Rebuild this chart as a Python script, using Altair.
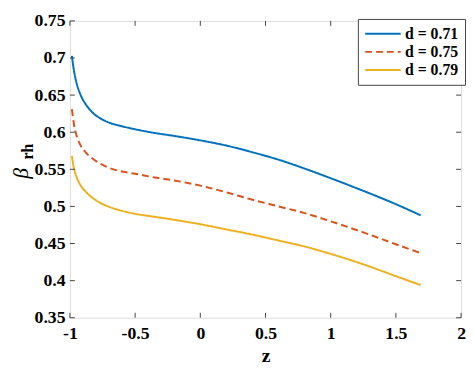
import altair as alt
import pandas as pd

z = [-0.985, -0.97, -0.95, -0.92, -0.88, -0.83, -0.77, -0.7, -0.6, -0.5, -0.35,
     -0.2, 0.0, 0.2, 0.4, 0.6, 0.8, 1.0, 1.25, 1.5, 1.69]
beta_071 = [0.703, 0.684, 0.667, 0.651, 0.638, 0.627, 0.619, 0.613, 0.608, 0.604, 0.599,
            0.595, 0.589, 0.582, 0.573, 0.563, 0.551, 0.538, 0.521, 0.503, 0.488]
beta_075 = [0.631, 0.612, 0.596, 0.583, 0.573, 0.565, 0.558, 0.552, 0.547, 0.544, 0.539,
            0.535, 0.528, 0.519, 0.509, 0.500, 0.491, 0.480, 0.465, 0.449, 0.437]
beta_079 = [0.568, 0.552, 0.540, 0.529, 0.520, 0.512, 0.505, 0.4995, 0.494, 0.490, 0.486,
            0.482, 0.476, 0.469, 0.462, 0.454, 0.446, 0.436, 0.422, 0.406, 0.394]
series = ["d = 0.71", "d = 0.75", "d = 0.79"]
colors = ["#0072BD", "#D95319", "#EDB120"]
dashes = [[1, 0], [7, 4], [1, 0]]
x_ticks = [-1, -0.5, 0, 0.5, 1, 1.5, 2]
y_ticks = [0.35, 0.4, 0.45, 0.5, 0.55, 0.6, 0.65, 0.7, 0.75]

rows = []
for name, vals in zip(series, [beta_071, beta_075, beta_079]):
    for zi, v in zip(z, vals):
        rows.append({"z": zi, "beta": v, "d": name})
df = pd.DataFrame(rows)

W, H = 398, 302
FONT = "Liberation Serif"
xs = alt.Scale(domain=[-1, 2], nice=False, zero=False)
ys = alt.Scale(domain=[0.35, 0.75], nice=False, zero=False)

leg = dict(title=None, orient="none", legendX=293, legendY=-2, symbolType="stroke",
           symbolSize=1300, symbolStrokeWidth=2, labelFont=FONT, labelFontSize=16,
           labelFontWeight="bold", labelColor="black", strokeColor="#444",
           fillColor="white", padding=6, rowPadding=0.5, clipHeight=18, labelOffset=3)

axis_common = dict(labelExpr="datum.value + ''", grid=False, ticks=False, domain=False,
                   labelFont=FONT, labelFontSize=18, labelFontWeight="bold",
                   labelColor="black", labelOverlap=False, labelFlush=False,
                   labelSeparation=0)
x_axis = alt.Axis(values=x_ticks, title="z", labelPadding=7, titleFont=FONT,
                  titleFontSize=20, titleFontWeight="bold", titleColor="black",
                  titlePadding=4, **axis_common)
y_axis = alt.Axis(values=y_ticks, title=None, labelPadding=5, **axis_common)

lines = alt.Chart(df).mark_line(strokeWidth=2, interpolate="monotone").encode(
    x=alt.X("z:Q", scale=xs, axis=x_axis),
    y=alt.Y("beta:Q", scale=ys, axis=y_axis),
    color=alt.Color("d:N", scale=alt.Scale(domain=series, range=colors),
                    legend=alt.Legend(**leg)),
    strokeDash=alt.StrokeDash("d:N", scale=alt.Scale(domain=series, range=dashes),
                              legend=alt.Legend(**leg)),
)

xt = pd.DataFrame({"z": x_ticks})
yt = pd.DataFrame({"beta": y_ticks})
tick_style = dict(color="#444", strokeWidth=1)
xb = alt.Chart(xt).mark_rule(**tick_style).encode(
    x=alt.X("z:Q", scale=xs, axis=x_axis), y=alt.value(H), y2=alt.value(H - 5))
xtop = alt.Chart(xt).mark_rule(**tick_style).encode(
    x=alt.X("z:Q", scale=xs, axis=x_axis), y=alt.value(0), y2=alt.value(5))
yl = alt.Chart(yt).mark_rule(**tick_style).encode(
    y=alt.Y("beta:Q", scale=ys, axis=y_axis), x=alt.value(0), x2=alt.value(5))
yr = alt.Chart(yt).mark_rule(**tick_style).encode(
    y=alt.Y("beta:Q", scale=ys, axis=y_axis), x=alt.value(W), x2=alt.value(W - 5))

beta_lbl = alt.Chart(pd.DataFrame({"t": ["β"]})).mark_text(
    font=FONT, fontSize=22, fontStyle="italic", angle=270, color="black").encode(
    text="t:N", x=alt.value(-50), y=alt.value(155))
rh_lbl = alt.Chart(pd.DataFrame({"t": ["rh"]})).mark_text(
    font=FONT, fontSize=16, fontWeight="bold", angle=270, color="black").encode(
    text="t:N", x=alt.value(-43), y=alt.value(133))

chart = alt.layer(lines, xb, xtop, yl, yr, beta_lbl, rh_lbl).properties(
    width=W, height=H,
    autosize=alt.AutoSizeParams(type="none"),
    padding={"left": 63, "top": 10, "right": 5, "bottom": 48},
).configure_view(stroke="#444", strokeWidth=1).configure(background="white")

chart.save("out.html", embed_options={"renderer": "svg", "actions": False})
